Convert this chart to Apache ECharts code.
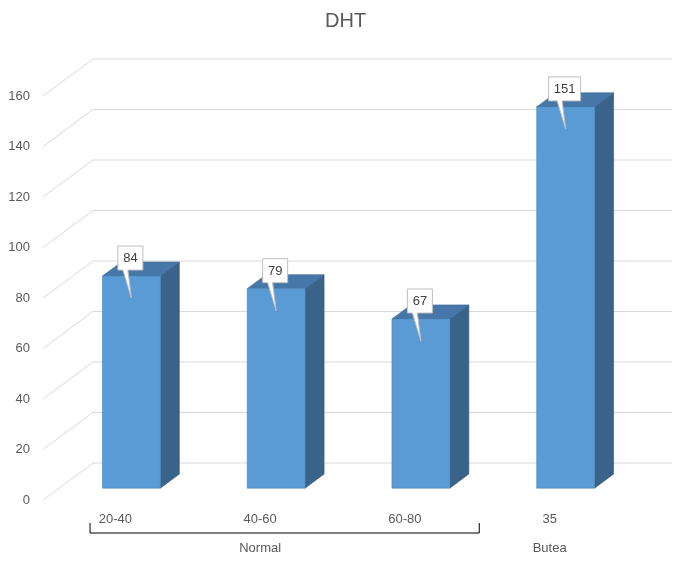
<!DOCTYPE html>
<html><head><meta charset="utf-8">
<script src="https://cdn.jsdelivr.net/npm/echarts@6/dist/echarts.min.js"></script>
<style>html,body{margin:0;padding:0;background:#fff}#c{width:680px;height:567px}</style>
</head><body><div id="c"></div>
<script>
const chartTitle = 'DHT';
const categories = ['20-40', '40-60', '60-80', '35'];
const values = [84, 79, 67, 151];
const yTicks = [0, 20, 40, 60, 80, 100, 120, 140, 160];
const groupNames = ['Normal', 'Butea'];
const groupFrom = [0, 3];
const groupTo = [2, 3];

const DX = 50, DY = -37;       // depth of the 3D box
const FRONT = 0.32, BACK = 0.70; // bar depth position
const BAR_W = 0.4;
const FONT = '"Liberation Sans", Arial, sans-serif';

const chart = echarts.init(document.getElementById('c'), null, {renderer: 'canvas'});

function gridRender(params, api) {
  const v = api.value(1);
  const band = api.size([1, 0])[0];
  const p0 = api.coord([0, v]);
  const p3 = api.coord([categories.length - 1, v]);
  const xl = p0[0] - band / 2, xr = p3[0] + band / 2, y = p0[1];
  return {
    type: 'polyline',
    shape: {points: [[xl, y], [xl + DX, y + DY], [xr + DX, y + DY]]},
    style: {stroke: '#D9D9D9', lineWidth: 1, fill: null}
  };
}

function barRender(params, api) {
  const i = api.value(0), v = api.value(1);
  const band = api.size([1, 0])[0];
  const w = band * BAR_W;
  const c0 = api.coord([i, 0]);
  const c1 = api.coord([i, v]);
  const xl = c0[0] - w / 2, xr = c0[0] + w / 2;
  const yb = c0[1], yt = c1[1];
  const fx = DX * FRONT, fy = DY * FRONT, bx = DX * BACK, by = DY * BACK;
  const children = [
    {type: 'polygon', shape: {points: [[xr + fx, yt + fy], [xr + bx, yt + by], [xr + bx, yb + by], [xr + fx, yb + fy]]},
     style: {fill: '#3A6389', stroke: '#33587C', lineWidth: 0.6}},
    {type: 'polygon', shape: {points: [[xl + fx, yt + fy], [xr + fx, yt + fy], [xr + bx, yt + by], [xl + bx, yt + by]]},
     style: {fill: '#4677A8', stroke: '#3D6A96', lineWidth: 0.6}},
    {type: 'rect', shape: {x: xl + fx, y: yt + fy, width: w, height: yb - yt},
     style: {fill: '#5B9BD5', stroke: '#4F89BE', lineWidth: 0.6}}
  ];
  // callout label
  const txt = String(v);
  const tx = c0[0] + fx, ty = yt + fy;
  const bw = 11 + 7 * txt.length, bh = 24;
  const bcx = tx - 1, bbot = ty - 6, btop = bbot - bh;
  const L = bcx - bw / 2, R = bcx + bw / 2;
  children.push({
    type: 'polygon',
    shape: {points: [[L, btop], [R, btop], [R, bbot], [bcx - 2.5, bbot], [tx, ty + 22], [bcx - 7.5, bbot], [L, bbot]]},
    style: {fill: '#FFFFFF', stroke: '#BFBFBF', lineWidth: 1}
  });
  children.push({
    type: 'text',
    style: {text: txt, x: bcx, y: btop + bh / 2 + 0.5, align: 'center', verticalAlign: 'middle',
            fill: '#404040', font: '13px ' + FONT}
  });
  return {type: 'group', children: children};
}

function groupRender(params, api) {
  const k = params.dataIndex;
  const band = api.size([1, 0])[0];
  const a = api.coord([groupFrom[k], 0]);
  const b = api.coord([groupTo[k], 0]);
  const children = [];
  const yLine = a[1] + 33;
  if (groupTo[k] > groupFrom[k]) {
    const xl = a[0] - band * 0.175, xr = b[0] + band / 2 + 2;
    children.push({
      type: 'polyline',
      shape: {points: [[xl, yLine - 10], [xl, yLine], [xr, yLine], [xr, yLine - 10]]},
      style: {stroke: '#000000', lineWidth: 1, fill: null}
    });
  }
  children.push({
    type: 'text',
    style: {text: groupNames[k], x: (a[0] + b[0]) / 2, y: a[1] + 48, align: 'center', verticalAlign: 'middle',
            fill: '#595959', font: '13px ' + FONT}
  });
  return {type: 'group', children: children};
}

chart.setOption({
  animation: false,
  backgroundColor: '#FFFFFF',
  title: {
    text: chartTitle, left: 320, top: 6,
    textStyle: {fontFamily: FONT, fontSize: 20, fontWeight: 'normal', color: '#595959'}
  },
  grid: {left: 43, right: 58, top: 96, bottom: 67},
  xAxis: {
    type: 'category', data: categories, boundaryGap: true,
    axisLine: {show: false}, axisTick: {show: false},
    axisLabel: {margin: 13, color: '#595959', fontSize: 13, fontFamily: FONT}
  },
  yAxis: {
    type: 'value', min: 0, max: 160, interval: 20,
    axisLine: {show: false}, axisTick: {show: false}, splitLine: {show: false},
    axisLabel: {margin: 13, color: '#595959', fontSize: 13, fontFamily: FONT}
  },
  series: [
    {type: 'custom', silent: true, clip: false, z: 1, renderItem: gridRender,
     data: yTicks.map(v => [0, v])},
    {type: 'custom', silent: true, clip: false, z: 2, renderItem: barRender,
     data: values.map((v, i) => [i, v])},
    {type: 'custom', silent: true, clip: false, z: 3, renderItem: groupRender,
     data: groupNames.map((g, k) => [groupFrom[k], 0])}
  ]
});
</script></body></html>
